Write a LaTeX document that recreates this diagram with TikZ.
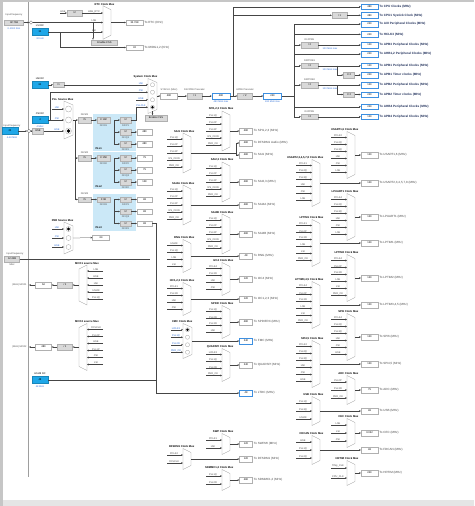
\documentclass[tikz,border=0pt]{standalone}
\usepackage{fontspec}
\setmainfont{Liberation Sans}
\usetikzlibrary{arrows.meta}

\definecolor{srcblue}{HTML}{1EA7E8}
\definecolor{outblue}{HTML}{3D8FE0}
\definecolor{freqblue}{HTML}{2F6FD8}
\definecolor{boxfill}{HTML}{D9D9D9}
\definecolor{boxedge}{HTML}{B0B0B0}
\definecolor{wirecol}{HTML}{454545}
\definecolor{muxedge}{HTML}{A4A4A4}
\definecolor{pllfill}{HTML}{CBE8F7}
\definecolor{framegray}{HTML}{C6C6C6}
\definecolor{textgray}{HTML}{4A4A4A}
\definecolor{navytext}{HTML}{1F2F5A}

\tikzset{
  >={Stealth[length=1.8pt, width=1.6pt]},
  wire/.style={draw=wirecol, line width=0.25pt},
  muxline/.style={draw=muxedge, fill=white, line width=0.35pt},
  muxtitle/.style={font=\fontsize{2.7}{3}\selectfont\bfseries, inner sep=0.4pt, anchor=south east},
  inlabel/.style={font=\fontsize{2.5}{3}\selectfont, text=textgray, inner sep=0.3pt},
  radiolabel/.style={inlabel, text=freqblue},
  valbox/.style={draw=boxedge, fill=white, line width=0.35pt, minimum width=17pt, minimum height=5.5pt, inner sep=0pt, font=\fontsize{2.6}{3}\selectfont},
  busbox/.style={valbox, draw=outblue, line width=0.5pt},
  graybox/.style={draw=boxedge, fill=boxfill, line width=0.3pt, minimum width=15pt, minimum height=5.5pt, inner sep=0pt, font=\fontsize{2.6}{3}\selectfont},
  srcbox/.style={draw=srcblue!80!black, fill=srcblue, line width=0.3pt, minimum width=16pt, minimum height=7pt, inner sep=0pt, font=\fontsize{2.6}{3}\selectfont},
  srcname/.style={font=\fontsize{2.5}{3}\selectfont, inner sep=0.3pt},
  tolabel/.style={font=\fontsize{3}{3.5}\selectfont, text=textgray, anchor=west, inner sep=1pt},
  bustext/.style={tolabel, font=\fontsize{3.1}{3.5}\selectfont\bfseries, text=navytext},
  freq/.style={font=\fontsize{2.4}{3}\selectfont, text=freqblue, inner sep=0.3pt},
  note/.style={font=\fontsize{2.4}{3}\selectfont, text=textgray, inner sep=0.3pt},
  radio/.style={circle, draw=muxedge, fill=white, line width=0.3pt, inner sep=0pt},
  pin/.style={circle, draw=wirecol, fill=white, inner sep=0pt, minimum size=3.5pt, line width=0.3pt},
}

% mux, inputs on the left: name, x, y centre, inputs, step, title, input list
\newcommand{\clkmux}[7]{%
  \pgfmathsetmacro{\muxh}{#4*#5+5}
  \pgfmathsetmacro{\muxt}{#3-\muxh/2}
  \pgfmathsetmacro{\muxb}{#3+\muxh/2}
  \draw [muxline] (#2,\muxt) -- (#2+8,\muxt+4) -- (#2+8,\muxb-4) -- (#2,\muxb) -- cycle;
  \node (#1-t) at (#2+12,\muxt) [muxtitle] {#6};
  \foreach \lab [count=\i] in {#7} {
    \pgfmathsetmacro{\muxy}{\muxt+2.5+(\i-0.5)*#5}
    \coordinate (#1-\i) at (#2-16,\muxy);
    \draw [wire, ->] (#1-\i) -- (#2,\muxy);
    \node (#1-l\i) at (#2-9,\muxy) [inlabel, above] {\lab};
  }
  \coordinate (#1) at (#2+8,#3);
}

% mux with radio buttons, last argument is the selected input
\newcommand{\radiomux}[8]{%
  \pgfmathsetmacro{\muxh}{#4*#5+5}
  \pgfmathsetmacro{\muxt}{#3-\muxh/2}
  \pgfmathsetmacro{\muxb}{#3+\muxh/2}
  \pgfmathsetmacro{\muxr}{0.55*#5}
  \pgfmathsetmacro{\muxd}{0.17*#5}
  \draw [muxline] (#2,\muxt) -- (#2+9,\muxt+4) -- (#2+9,\muxb-4) -- (#2,\muxb) -- cycle;
  \node (#1-t) at (#2+10,\muxt) [muxtitle] {#6};
  \foreach \lab [count=\i] in {#7} {
    \pgfmathsetmacro{\muxy}{\muxt+2.5+(\i-0.5)*#5}
    \coordinate (#1-\i) at (#2-12,\muxy);
    \draw [wire, ->] (#1-\i) -- (#2,\muxy);
    \node (#1-l\i) at (#2-7,\muxy) [radiolabel, above] {\lab};
    \node (#1-r\i) at (#2+4.5,\muxy) [radio, minimum size={\muxr*1pt}] {};
    \ifnum\i=#8\relax \fill [black] (#1-r\i) circle [radius={\muxd*1pt}]; \fi
  }
  \coordinate (#1) at (#2+9,#3);
}

% mux, inputs on the right (MCO)
\newcommand{\revmux}[7]{%
  \pgfmathsetmacro{\muxh}{#4*#5+5}
  \pgfmathsetmacro{\muxt}{#3-\muxh/2}
  \pgfmathsetmacro{\muxb}{#3+\muxh/2}
  \draw [muxline] (#2,\muxt) -- (#2-8,\muxt+4) -- (#2-8,\muxb-4) -- (#2,\muxb) -- cycle;
  \node (#1-t) at (#2,\muxt) [muxtitle, anchor=south] {#6};
  \foreach \lab [count=\i] in {#7} {
    \pgfmathsetmacro{\muxy}{\muxt+2.5+(\i-0.5)*#5}
    \coordinate (#1-\i) at (#2+16,\muxy);
    \draw [wire, ->] (#1-\i) -- (#2,\muxy);
    \node (#1-l\i) at (#2+9,\muxy) [inlabel, above] {\lab};
  }
  \coordinate (#1) at (#2-8,#3);
}

\begin{document}
\begin{tikzpicture}[x=1pt, y=-1pt]

\useasboundingbox ( 0, 0 ) rectangle ( 474, 506 );

% Frame
\fill [white] ( 0, 0 ) rectangle ( 474, 506 );
\fill [framegray] ( 0, 0 ) rectangle ( 474, 2 );
\fill [framegray] ( 0, 0 ) rectangle ( 3, 506 );
\fill [framegray!45] ( 3, 500 ) rectangle ( 474, 506 );
\draw [framegray!80!black, line width=0.5pt] ( 28, 2 ) -- ( 28, 477 );

% LSE, LSI and RTC
\node (lsef) at ( 14, 15 ) [note] {Input frequency};
\node (lse) at ( 14, 22.5 ) [graybox, minimum width=19pt] {32.768};
\node (lser) at ( 14, 29 ) [freq] {0-1000 KHz};
\node (lsepin) at ( 31, 22.5 ) [pin] {};
\node (lsil) at ( 40, 26 ) [srcname] {LSI RC};
\node (lsi) at ( 40, 32 ) [srcbox] {32};
\node (lsir) at ( 40, 38.5 ) [freq] {32 kHz};

\clkmux{rtc-mux}{103}{22.5}{3}{9.5}{RTC Clock Mux}{HSE\_RTC, LSE, LSI}

\coordinate (hsertc-in) at ( 60, 13 );
\node (hsertc-l) at ( 63, 13 ) [inlabel, above] {HSE};
\node (hsertc) at ( 74.5, 13 ) [graybox] {/ 2};
\draw [wire, ->] (hsertc-in) -- (hsertc);
\draw [wire] (hsertc) -- (rtc-mux-1);
\draw [wire, ->] (lse) -- (lsepin);
\draw [wire] (lsepin) -- (rtc-mux-2);
\draw [wire] (lsi) -- (rtc-mux-3);

\node (lsecss) at ( 104.5, 42.5 ) [graybox, minimum width=26pt] {Enable CSS};
\coordinate (lse-br) at ( 93, 22.5 );
\draw [wire, ->] (lse-br) -- (lse-br |- lsecss.north);

\node (rtc) at ( 134.5, 22.5 ) [valbox] {32.768};
\node (rtc-txt) at (rtc.east) [tolabel] {To RTC (KHz)};
\draw [wire, ->] (rtc-mux) -- (rtc);

\coordinate (lsi-br) at ( 60, 32 );
\node (iwdg) at ( 134.5, 47.5 ) [valbox] {32};
\node (iwdg-txt) at (iwdg.east) [tolabel] {To IWDG1,2 (KHz)};
\draw [wire, ->] (lsi-br) |- (iwdg);

% HSI, CSI, HSE
\node (hsil) at ( 40, 79 ) [srcname] {HSI RC};
\node (hsi) at ( 40, 84.75 ) [srcbox] {64};
\node (hsidiv) at ( 58.5, 84.75 ) [graybox, minimum width=11pt] {/ 1};
\draw [wire, ->] (hsi) -- (hsidiv);

\node (csil) at ( 40, 113.5 ) [srcname] {CSI RC};
\node (csi) at ( 40, 120 ) [srcbox] {4};
\node (csir) at ( 40, 126.5 ) [freq] {4 MHz};

\node (hsef) at ( 12, 126 ) [note] {Input frequency};
\node (hse) at ( 10, 131 ) [srcbox] {25};
\node (hser) at ( 12, 137.5 ) [freq] {4-48 MHz};
\node (hsepin) at ( 29, 131 ) [pin] {};
\node (hsebox) at ( 38, 131 ) [graybox, minimum width=11pt] {HSE};
\draw [wire, ->] (hse) -- (hsepin);
\draw [wire, ->] (hsepin) -- (hsebox);

% System clock mux
\radiomux{sys-mux}{148}{96}{4}{7.5}{System Clock Mux}{HSI, CSI, HSE, PLLCLK}{4}
\draw [wire] (hsidiv) -- (sys-mux-1);
\coordinate (csi-br) at ( 50, 120 );
\draw [wire] (csi-br) |- (sys-mux-2);

\node (hsecss) at ( 156, 118 ) [graybox, minimum width=22pt] {Enable CSS};
\coordinate (sysbot) at ( 152.5, 111 );
\draw [wire, ->] (sysbot) -- (sysbot |- hsecss.north);

% PLL source mux and PLLs
\radiomux{pll-mux}{64}{120}{3}{11}{PLL Source Mux}{HSI, CSI, HSE}{3}
\draw [wire] (csi) -- (pll-mux-2);
\draw [wire] (hsebox) -- (pll-mux-3);

\node (divm1) at ( 84.5, 120 ) [graybox, minimum width=13pt] {/ 5};
\node (divm2) at ( 84.5, 158 ) [graybox, minimum width=13pt] {/ 5};
\node (divm3) at ( 84.5, 199.5 ) [graybox, minimum width=13pt] {/ 5};
\node (divm1l) at ( 84.5, 114.5 ) [note] {DIVM1};
\node (divm2l) at ( 84.5, 152.5 ) [note] {DIVM2};
\node (divm3l) at ( 84.5, 194 ) [note] {DIVM3};
\draw [wire, ->] (pll-mux) -- (divm1);
\coordinate (pll-br) at ( 75.5, 120 );
\draw [wire, ->] (pll-br) |- (divm2);
\draw [wire, ->] (pll-br) |- (divm3);

\foreach \k/\yb/\nv/\pv/\qv/\rv in {1/120/192/480/480/480, 2/158/150/75/75/129, 3/199.5/96/48/48/48} {
  \fill [pllfill] ( 93, \yb-6 ) rectangle ( 136, \yb+31 );
  \node (pll\k) at ( 95, \yb+28.5 ) [note, anchor=west, text=black, font=\fontsize{2.6}{3}\selectfont\bfseries] {PLL\k};
  \node (divn\k) at ( 103.5, \yb ) [graybox, minimum width=13pt] {X \nv};
  \node (divnl\k) at ( 103.5, \yb+5.5 ) [note] {DIVN\k};
  \draw [wire, ->] (divm\k) -- (divn\k);
  \coordinate (nbr\k) at ( 114, \yb );
  \foreach \d/\o in {P/0, Q/12, R/24} {
    \node (div\d\k) at ( 125.5, \yb+\o ) [graybox, minimum width=11pt] {/ 2};
    \node (divl\d\k) at ( 125.5, \yb+\o+5.5 ) [note] {DIV\d\k};
    \draw [wire, ->] (nbr\k) |- (div\d\k);
  }
  \ifnum\k>1
    \node (valP\k) at ( 144.5, \yb ) [valbox, minimum width=15pt] {\pv};
    \draw [wire, ->] (divP\k) -- (valP\k);
  \fi
  \node (valQ\k) at ( 144.5, \yb+12 ) [valbox, minimum width=15pt] {\qv};
  \node (valR\k) at ( 144.5, \yb+24 ) [valbox, minimum width=15pt] {\rv};
  \draw [wire, ->] (divQ\k) -- (valQ\k);
  \draw [wire, ->] (divR\k) -- (valR\k);
}
\draw [wire] (divP1) -| (sys-mux-4);

% PER source
\radiomux{per-mux}{64}{238}{3}{9}{PER Source Mux}{HSI, CSI, HSE}{1}
\node (per) at ( 101, 237.5 ) [valbox] {64};
\draw [wire, ->] (per-mux) -- (per);

% I2S_CKIN
\node (i2sf) at ( 15, 253.5 ) [note] {Input frequency};
\node (i2s) at ( 12, 259 ) [graybox] {12.288};
\node (i2sr) at ( 12, 265 ) [note] {MHz};
\coordinate (i2s-end) at ( 150, 259 );
\draw [wire] (i2s) -- (i2s-end);

% MCO1 and MCO2
\revmux{mco1-mux}{87}{285}{5}{7}{MCO1 source Mux}{LSE, HSE, HSI, HSI48, PLL1Q}
\node (mco1div) at ( 65, 285 ) [graybox] {/ 1};
\node (mco1) at ( 43.5, 285 ) [valbox, minimum width=16pt] {64};
\coordinate (mco1pin) at ( 29, 285 );
\node (mco1l) at ( 27, 285 ) [note, anchor=east] {(MHz) MCO1};
\draw [wire, ->] (mco1-mux) -- (mco1div);
\draw [wire, ->] (mco1div) -- (mco1);
\draw [wire, ->] (mco1) -- (mco1pin);

\revmux{mco2-mux}{87}{347}{6}{7}{MCO2 source Mux}{SYSCLK, PLL2P, HSE, PLL1P, CSI, LSI}
\node (mco2div) at ( 65, 347 ) [graybox] {/ 1};
\node (mco2) at ( 43.5, 347 ) [valbox, minimum width=16pt] {480};
\coordinate (mco2pin) at ( 29, 347 );
\node (mco2l) at ( 27, 347 ) [note, anchor=east] {(MHz) MCO2};
\draw [wire, ->] (mco2-mux) -- (mco2div);
\draw [wire, ->] (mco2div) -- (mco2);
\draw [wire, ->] (mco2) -- (mco2pin);

% HSI48
\node (hsi48l) at ( 40, 374 ) [srcname] {HSI48 RC};
\node (hsi48) at ( 40, 380 ) [srcbox] {48};
\node (hsi48r) at ( 40, 386.5 ) [freq] {48 MHz};
\coordinate (hsi48-end) at ( 156, 380 );
\draw [wire] (hsi48) -- (hsi48-end);

% SYSCLK, D1CPRE, HPRE
\node (sysclk) at ( 169, 96 ) [valbox] {480};
\node (sysclkl) at ( 169, 90 ) [note] {SYSCLK (MHz)};
\node (d1cpre) at ( 194.5, 96 ) [graybox] {/ 1};
\node (d1cprel) at ( 194.5, 90 ) [note] {D1CPRE Prescaler};
\node (cpuclk) at ( 221, 96 ) [busbox, minimum width=18pt] {480};
\node (cpuclkl) at ( 221, 102 ) [freq] {480 MHz max};
\node (hpre) at ( 245, 96 ) [graybox] {/ 2};
\node (hprel) at ( 245, 90 ) [note] {HPRE Prescaler};
\node (hclk) at ( 272.5, 96 ) [busbox, minimum width=18pt] {240};
\node (hclkl) at ( 272.5, 102 ) [freq] {240 MHz max};
\draw [wire, ->] (sys-mux) -- (sysclk);
\draw [wire, ->] (sysclk) -- (d1cpre);
\draw [wire, ->] (d1cpre) -- (cpuclk);
\draw [wire, ->] (cpuclk) -- (hpre);
\draw [wire, ->] (hpre) -- (hclk);

% Bus clocks
\foreach \n/\y/\v/\t in {cpu/6.7/480/{To CPU Clocks (MHz)}, systick/15.3/480/{To CPU1 Systick Clock (MHz)}, axi/24/240/{To AXI Peripheral Clocks (MHz)}, hclk3/34.3/240/{To HCLK3 (MHz)}, apb3/45/120/{To APB3 Peripheral Clocks (MHz)}, ahb12/54/240/{To AHB1,2 Peripheral Clocks (MHz)}, apb1/65.7/120/{To APB1 Peripheral Clocks (MHz)}, apb1t/75/240/{To APB1 Timer clocks (MHz)}, apb2/85/120/{To APB2 Peripheral Clocks (MHz)}, apb2t/94.5/240/{To APB2 Timer clocks (MHz)}, ahb4/106.7/240/{To AHB4 Peripheral Clocks (MHz)}, apb4/116.7/120/{To APB4 Peripheral Clocks (MHz)}} {
  \node (\n) at ( 369.5, \y ) [busbox] {\v};
  \node (\n-txt) at (\n.east) [bustext] {\t};
}

\coordinate (cpubr) at ( 233, 96 );
\coordinate (systbr) at ( 233, 15.3 );
\node (systdiv) at ( 339.5, 15.3 ) [graybox] {/ 1};
\draw [wire, ->] (cpubr) |- (cpu);
\draw [wire, ->] (systbr) -- (systdiv);
\draw [wire, ->] (systdiv) -- (systick);

\coordinate (bustop) at ( 294, 24 );
\coordinate (busbot) at ( 294, 116.7 );
\draw [wire] (bustop) -- (busbot);
\draw [wire] (hclk) -- (hclk -| bustop);
\foreach \n in {axi, hclk3, ahb12, ahb4}
  \draw [wire, ->] (bustop |- \n) -- (\n);

\foreach \n/\p/\y/\lab in {apb3/d1ppre/45/D1PPRE, apb1/d2ppre1/65.7/D2PPRE1, apb2/d2ppre2/85/D2PPRE2, apb4/d3ppre/116.7/D3PPRE} {
  \node (\p) at ( 309.5, \y ) [graybox, minimum width=17pt] {/ 2};
  \node (\p-l) at ( 309.5, \y-5.3 ) [note] {\lab};
  \draw [wire, ->] (bustop |- \p) -- (\p);
  \draw [wire, ->] (\p) -- (\n);
}
\node (maxa) at ( 330, 49 ) [freq] {120 MHz max};
\node (maxb) at ( 330, 69.5 ) [freq] {120 MHz max};
\node (maxc) at ( 330, 89 ) [freq] {120 MHz max};

\coordinate (tbr1) at ( 337, 65.7 );
\coordinate (tbr2) at ( 337, 85 );
\node (x2a) at ( 349, 75 ) [graybox, minimum width=11pt] {X 2};
\node (x2b) at ( 349, 94.5 ) [graybox, minimum width=11pt] {X 2};
\draw [wire, ->] (tbr1) |- (x2a);
\draw [wire, ->] (tbr2) |- (x2b);
\draw [wire, ->] (x2a) -- (apb1t);
\draw [wire, ->] (x2b) -- (apb2t);

% Peripheral muxes, first column
\clkmux{sai1-mux}{183}{153}{5}{7}{SAI1 Clock Mux}{PLL1Q, PLL2P, PLL3P, I2S\_CKIN, PER\_CK}
\clkmux{sai4a-mux}{183}{205}{5}{7}{SAI4A Clock Mux}{PLL1Q, PLL2P, PLL3P, I2S\_CKIN, PER\_CK}
\clkmux{rng-mux}{183}{256}{4}{7}{RNG Clock Mux}{HSI48, PLL1Q, LSE, LSI}
\clkmux{i2c123-mux}{183}{299}{4}{7}{I2C1,2,3 Clock Mux}{PCLK1, PLL3R, HSI, CSI}
\radiomux{fmc-mux}{183}{341}{4}{7.5}{FMC Clock Mux}{HCLK3, PLL1Q, PLL2R, PER\_CK}{1}
\clkmux{dfsdm-mux}{183}{459}{2}{8}{DFSDM1 Clock Mux}{PCLK2, SYSCLK}

% Peripheral muxes, second column
\clkmux{spi123-mux}{222}{131}{5}{7}{SPI1,2,3 Clock Mux}{PLL1Q, PLL2P, PLL3P, I2S\_CKIN, PER\_CK}
\clkmux{sai23-mux}{222}{182}{5}{7}{SAI2,3 Clock Mux}{PLL1Q, PLL2P, PLL3P, I2S\_CKIN, PER\_CK}
\clkmux{sai4b-mux}{222}{234}{5}{7}{SAI4B Clock Mux}{PLL1Q, PLL2P, PLL3P, I2S\_CKIN, PER\_CK}
\clkmux{i2c4-mux}{222}{279}{4}{7}{I2C4 Clock Mux}{PCLK4, PLL3R, HSI, CSI}
\clkmux{spdif-mux}{222}{322}{4}{7}{SPDIF Clock Mux}{PLL1Q, PLL2R, PLL3R, HSI}
\clkmux{qspi-mux}{222}{365}{4}{7}{QUADSPI Clock Mux}{HCLK3, PLL1Q, PLL2R, PER\_CK}
\clkmux{swp-mux}{222}{444}{2}{8}{SWP Clock Mux}{PCLK1, HSI}
\clkmux{sdmmc-mux}{222}{480}{2}{8}{SDMMC1,2 Clock Mux}{PLL1Q, PLL2R}

\foreach \n/\y/\v/\t in {spi123/131/480/{To SPI1,2,3 (MHz)}, sai23/182/480/{To SAI2,3 (MHz)}, sai4a/205/480/{To SAI4A (MHz)}, sai4b/234/480/{To SAI4B (MHz)}, rng/256/48/{To RNG (MHz)}, i2c4/279/120/{To I2C4 (MHz)}, i2c123/299/120/{To I2C1,2,3 (MHz)}, spdif/322/480/{To SPDIFRX (MHz)}, qspi/365/240/{To QUADSPI (MHz)}, swp/444/120/{To SWPMI (MHz)}, dfsdm/459/120/{To DFSDM1 (MHz)}, sdmmc/480/480/{To SDMMC1,2 (MHz)}} {
  \node (\n) at ( 246, \y ) [valbox, minimum width=13pt] {\v};
  \node (\n-txt) at (\n.east) [tolabel] {\t};
  \draw [wire, ->] (\n-mux) -- (\n);
}

\node (sai1) at ( 246, 155 ) [valbox, minimum width=13pt] {480};
\node (sai1-txt) at (sai1.east) [tolabel] {To SAI1 (MHz)};
\node (dfsdma) at ( 246, 143 ) [valbox, minimum width=13pt] {480};
\node (dfsdma-txt) at (dfsdma.east) [tolabel] {To DFSDM1 Audio (MHz)};
\coordinate (sai1-br) at ( 236, 153 );
\draw [wire] (sai1-mux) -- (sai1-br);
\draw [wire, ->] (sai1-br) |- (sai1);
\draw [wire, ->] (sai1-br) |- (dfsdma);

\node (fmc) at ( 246, 341 ) [busbox, minimum width=13pt] {240};
\node (fmc-txt) at (fmc.east) [tolabel] {To FMC (MHz)};
\draw [wire, ->] (fmc-mux) -- (fmc);

\node (ltdc) at ( 246, 393 ) [busbox, minimum width=13pt] {48};
\node (ltdc-txt) at (ltdc.east) [tolabel] {To LTDC (MHz)};
\coordinate (ltdc-turn) at ( 156, 393 );
\draw [wire, ->] (valR3) -| (ltdc-turn) -- (ltdc);

% Peripheral muxes, third and fourth column
\clkmux{usart2-mux}{312}{183}{6}{7}{USART2,3,4,5,7,8 Clock Mux}{PCLK1, PLL2Q, PLL3Q, HSI, CSI, LSE}
\clkmux{lptim1-mux}{312}{243}{6}{7}{LPTIM1 Clock Mux}{PCLK1, PLL2P, PLL3R, LSE, LSI, PER\_CK}
\clkmux{lptim345-mux}{312}{305}{6}{7}{LPTIM3,4,5 Clock Mux}{PCLK4, PLL2P, PLL3R, LSE, LSI, PER\_CK}
\clkmux{spi45-mux}{312}{364}{6}{7}{SPI4,5 Clock Mux}{PCLK2, PLL2Q, PLL3Q, HSI, CSI, HSE}
\clkmux{usb-mux}{312}{411}{3}{8}{USB Clock Mux}{PLL1Q, PLL3Q, HSI48}
\clkmux{fdcan-mux}{312}{450}{3}{8}{FDCAN Clock Mux}{HSE, PLL1Q, PLL2Q}

\clkmux{usart16-mux}{347}{155}{6}{7}{USART1,6 Clock Mux}{PCLK2, PLL2Q, PLL3Q, HSI, CSI, LSE}
\clkmux{lpuart-mux}{347}{217}{6}{7}{LPUART1 Clock Mux}{PCLK4, PLL2Q, PLL3Q, HSI, CSI, LSE}
\clkmux{lptim2-mux}{347}{278}{6}{7}{LPTIM2 Clock Mux}{PCLK4, PLL2P, PLL3R, LSE, LSI, PER\_CK}
\clkmux{spi6-mux}{347}{337}{6}{7}{SPI6 Clock Mux}{PCLK4, PLL2Q, PLL3Q, HSI, CSI, HSE}
\clkmux{adc-mux}{347}{390}{3}{8}{ADC Clock Mux}{PLL2P, PLL3R, PER\_CK}
\clkmux{cec-mux}{347}{433}{3}{8}{CEC Clock Mux}{LSE, LSI, CSI}
\clkmux{hrtim-mux}{347}{473}{2}{10}{HRTIM Clock Mux}{TIMy\_CLK, CPU\_CLK}

\foreach \n/\y/\v/\t in {usart16/155/120/{To USART1,6 (MHz)}, usart2/183/120/{To USART2,3,4,5,7,8 (MHz)}, lpuart/217/120/{To LPUART1 (MHz)}, lptim1/243/120/{To LPTIM1 (MHz)}, lptim2/278/120/{To LPTIM2 (MHz)}, lptim345/305/120/{To LPTIM3,4,5 (MHz)}, spi6/337/120/{To SPI6 (MHz)}, spi45/364/120/{To SPI4,5 (MHz)}, adc/390/75/{To ADC (MHz)}, usb/411/48/{To USB (MHz)}, cec/433/0.032/{To CEC (MHz)}, fdcan/450/48/{To FDCAN (MHz)}, hrtim/473/240/{To HRTIM (MHz)}} {
  \node (\n) at ( 369.5, \y ) [valbox] {\v};
  \node (\n-txt) at (\n.east) [tolabel] {\t};
  \draw [wire, ->] (\n-mux) -- (\n);
}

\end{tikzpicture}
\end{document}
